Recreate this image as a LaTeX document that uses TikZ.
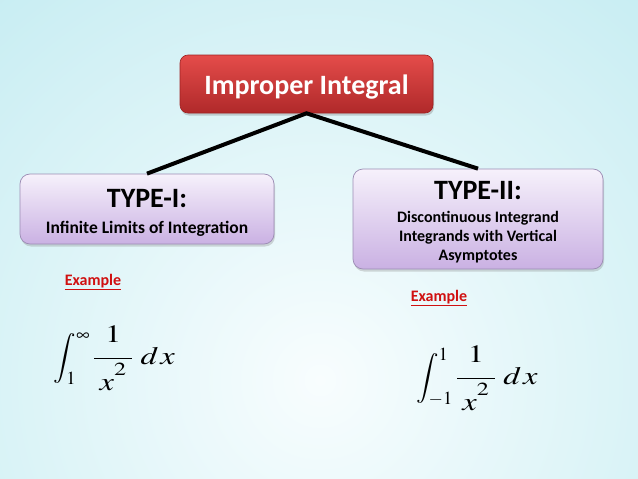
\documentclass[tikz,border=0pt]{standalone}
\usepackage{mathptmx}
\usepackage{graphicx}
\usepackage[no-math]{fontspec}
\setmainfont{Carlito}
\usetikzlibrary{shadows}
\definecolor{bgout}{HTML}{A6E2EA}
\definecolor{bgin}{HTML}{F8FDFE}
\definecolor{redtop}{HTML}{E44C4A}
\definecolor{redbot}{HTML}{B0292A}
\definecolor{redline}{HTML}{9E2222}
\definecolor{liltop}{HTML}{F6F1FB}
\definecolor{lilbot}{HTML}{CAB1E3}
\definecolor{lilline}{HTML}{9C8CB4}
\definecolor{exred}{HTML}{D01010}
\tikzset{
  redbox/.style={draw=redline, line width=0.6pt, rounded corners=8pt,
    top color=redtop, bottom color=redbot, text=white,
    font=\fontsize{28}{30}\selectfont\bfseries,
    drop shadow={opacity=0.35, shadow xshift=1pt, shadow yshift=-2.5pt}},
  lilbox/.style={draw=lilline, line width=0.7pt, rounded corners=10pt,
    top color=liltop, bottom color=lilbot, text=black,
    drop shadow={opacity=0.3, shadow xshift=1pt, shadow yshift=-2.5pt}},
  link/.style={line width=4pt, black},
  exlabel/.style={text=exred, font=\fontsize{16}{18}\selectfont\bfseries, anchor=base, inner sep=0pt},
  mathnode/.style={font=\fontsize{25}{30}\selectfont, inner sep=0pt}
}
\newcommand\myfrac{\scalebox{1.3}[1]{$\displaystyle\frac{\raisebox{5pt}{$\displaystyle 1$}}{\hspace{4pt}\rule{0pt}{29pt}x^{\raisebox{8pt}{$\scriptstyle 2$}}\hspace{4pt}}$}}
\newcommand\mydx{\scalebox{1.3}[1]{$d\hspace{1.5pt}x$}}
\begin{document}
\begin{tikzpicture}[x=1pt,y=-1pt]
\useasboundingbox (0,0) rectangle (638,479);
\begin{scope}
\clip (0,0) rectangle (638,479);
\shade[inner color=bgin, outer color=bgout] (320,380) circle (860);
\end{scope}

\node[redbox, minimum width=253pt, minimum height=58pt] (top) at (306.5,84)
  {\raisebox{-3pt}[\height][\depth]{Improper Integral}};

\node[lilbox, minimum width=254pt, minimum height=70pt,
  font=\fontsize{17.5}{21}\selectfont\bfseries] (t1) at (147,209)
  {\raisebox{-5.2pt}[\height][\depth]{\begin{tabular}{@{}c@{}}{\fontsize{28}{30}\selectfont TYPE-I:}\\[5pt] Infinite Limits of Integration\end{tabular}}};

\node[lilbox, minimum width=250pt, minimum height=100pt,
  font=\fontsize{16}{19}\selectfont\bfseries] (t2) at (478,219)
  {\raisebox{-4.85pt}[\height][\depth]{\begin{tabular}{@{}c@{}}{\fontsize{28}{30}\selectfont TYPE-II:}\\[4.4pt] Discontinuous Integrand\\ Integrands with Vertical\\ Asymptotes\end{tabular}}};

\draw[link] (t1.north) -- (top.south) -- (t2.north);

\node[exlabel] (ex1) at (93,285) {\underline{Example}};
\node[exlabel] (ex2) at (439,301) {\underline{Example}};

\node[mathnode] (m1) at (114.5,358.5) {$\displaystyle\int_{1}^{\infty}\myfrac\hspace{7pt}\mydx$};
\node[mathnode] (m2) at (477,378.5) {$\displaystyle\int_{-1}^{1}\myfrac\hspace{7pt}\mydx$};
\end{tikzpicture}
\end{document}
